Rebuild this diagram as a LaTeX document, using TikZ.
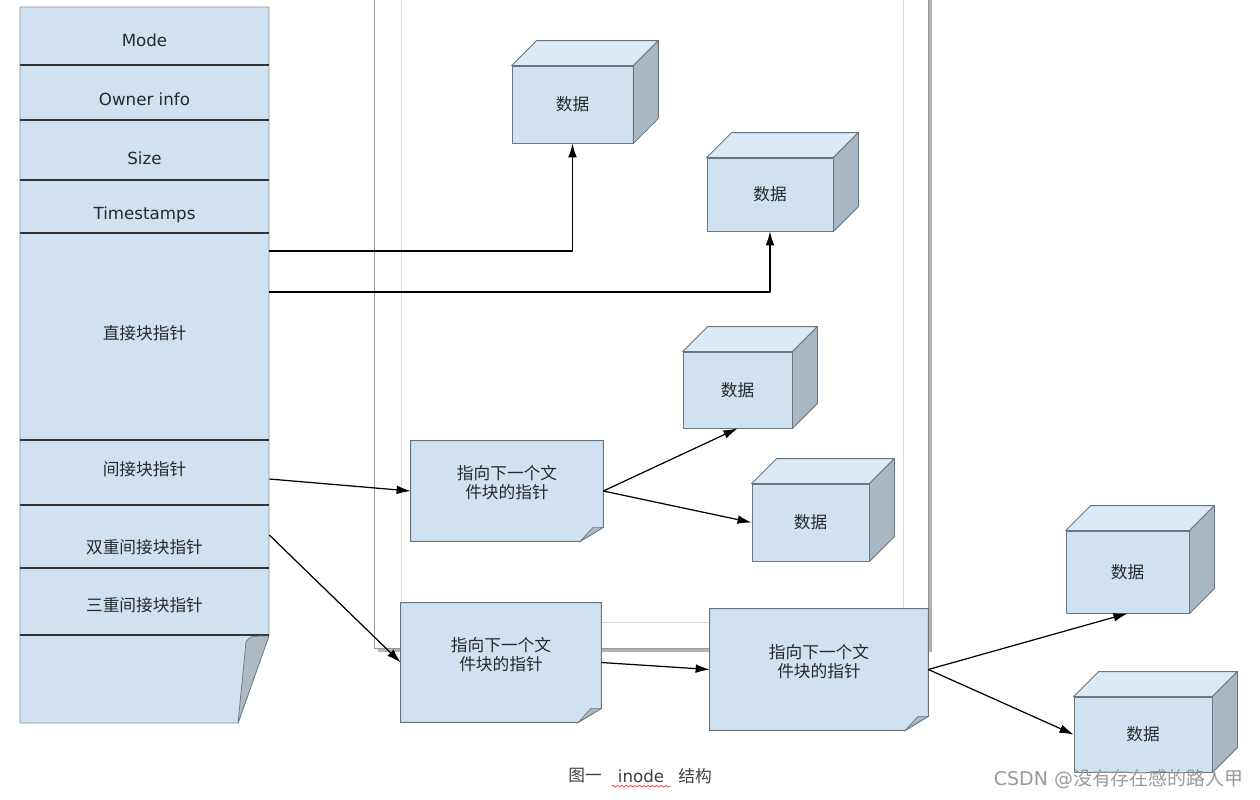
\documentclass[tikz,border=0pt]{standalone}
\usepackage{fontspec}
\setmainfont{DejaVu Sans}
\newfontfamily\cjk{Noto Sans CJK SC}
\usepackage{tikz}
\usetikzlibrary{arrows.meta,backgrounds,shadows,decorations.pathmorphing}

\definecolor{blockblue}{RGB}{208,226,242}
\definecolor{blocktop}{RGB}{219,234,247}
\definecolor{blockside}{RGB}{168,183,196}
\definecolor{edgegray}{RGB}{105,118,130}
\definecolor{foldgray}{RGB}{172,186,198}
\definecolor{inktext}{RGB}{40,40,40}

\tikzset{
  field/.style={minimum width=4.98cm, inner sep=0pt, text=inktext},
  datablock/.style={fill=blockblue, draw=edgegray, line width=0.5pt, inner sep=0pt,
    font=\fontsize{9.5}{11}\selectfont\cjk, text=inktext},
  notebox/.style={align=center, inner sep=0pt, text depth=10pt,
    font=\fontsize{9.5}{11}\selectfont\cjk, text=inktext},
  cubeface/.style={fill=blocktop, draw=edgegray, line width=0.5pt},
  cubeside/.style={fill=blockside, draw=edgegray, line width=0.5pt},
  paper/.style={fill=blockblue, draw=edgegray, line width=0.5pt},
  fold/.style={fill=foldgray, draw=edgegray, line width=0.4pt},
  ptr/.style={-{Latex[length=8pt,width=5pt]}, line width=0.7pt},
}

\begin{document}
\begin{tikzpicture}[x=0.02cm, y=-0.02cm, font=\fontsize{9.5}{11}\selectfont, line join=round]
\useasboundingbox (0,0) rectangle (1260,799);

% page frame behind everything
\begin{scope}[on background layer]
\fill[white] (0,0) rectangle (1260,799);
\draw[black!40, fill=white, drop shadow={shadow xshift=2pt, shadow yshift=-2pt, opacity=0.6}] (374,-10) rectangle (928,648);
\draw[black!15] (401,-10) rectangle (903,622);
\end{scope}

% inode
\draw[paper, draw=black!45] (20,7) -- (269,7) -- (269,635) -- (238,723) -- (20,723) -- cycle;
\foreach \y in {65,120,180,233,440,505,568,635}
  \draw[black!80, line width=0.6pt] (20,\y) -- (269,\y);
\draw[fold] (269,636) -- (238,723) -- (246,642) .. controls (250,636) .. (269,636) -- cycle;

\node[field] (mode) at (144.5,40) {Mode};
\node[field] (owner) at (144.5,99) {Owner info};
\node[field] (size) at (144.5,158) {Size};
\node[field] (time) at (144.5,215) {Timestamps};
\node[field] (direct) at (144.5,333) {\cjk 直接块指针};
\node[field] (ind) at (144.5,469) {\cjk 间接块指针};
\node[field] (dind) at (144.5,547) {\cjk 双重间接块指针};
\node[field] (tind) at (144.5,605) {\cjk 三重间接块指针};

% data blocks
\node[datablock, minimum width=2.42cm, minimum height=1.54cm] (d1) at (572.5,104.5) {数据};
\node[datablock, minimum width=2.52cm, minimum height=1.46cm] (d2) at (770,194.5) {数据};
\node[datablock, minimum width=2.18cm, minimum height=1.52cm] (d3) at (737.5,390) {数据};
\node[datablock, minimum width=2.34cm, minimum height=1.54cm] (d4) at (810.5,522.5) {数据};
\node[datablock, minimum width=2.46cm, minimum height=1.64cm] (d5) at (1127.5,572) {数据};
\node[datablock, minimum width=2.76cm, minimum height=1.50cm] (d6) at (1143,734.5) {数据};
\foreach \blk in {d1,d2,d3,d4,d5,d6} {
  \draw[cubeface] (\blk.north west) -- ++(25,-25) -- ([shift={(25,-25)}]\blk.north east) -- (\blk.north east) -- cycle;
  \draw[cubeside] (\blk.north east) -- ++(25,-25) -- ([shift={(25,-25)}]\blk.south east) -- (\blk.south east) -- cycle;
}

% pointer blocks
\node[notebox, minimum width=3.84cm, minimum height=2cm] (n1) at (507,491) {指向下一个文\\件块的指针};
\node[notebox, minimum width=4cm, minimum height=2.38cm] (n2) at (501,662.5) {指向下一个文\\件块的指针};
\node[notebox, minimum width=4.36cm, minimum height=2.42cm] (n3) at (819,669.5) {指向下一个文\\件块的指针};
\begin{scope}[on background layer]
\foreach \nt in {n1,n2,n3} {
  \draw[paper] (\nt.north west) -- (\nt.north east) -- ([shift={(0,-14)}]\nt.south east) -- ([shift={(-23,0)}]\nt.south east) -- (\nt.south west) -- cycle;
  \draw[fold] ([shift={(0,-14)}]\nt.south east) -- ([shift={(-23,0)}]\nt.south east) .. controls ([shift={(-15,-9)}]\nt.south east) .. ([shift={(-10,-14)}]\nt.south east) -- cycle;
}
\end{scope}

% pointers
\draw[ptr] ([shift={(0,-82)}]direct.east) -| (d1.south);
\draw[ptr] ([shift={(0,-41)}]direct.east) -| (d2.south);
\draw[ptr] ([shift={(0,10)}]ind.east) -- (n1.west);
\draw[ptr] ([shift={(0,-12)}]dind.east) -- (n2.west);
\draw[ptr] (n1.east) -- (d3.south);
\draw[ptr] (n1.east) -- (d4.west);
\draw[ptr] (n2.east) -- (n3.west);
\draw[ptr] (n3.east) -- (d5.south);
\draw[ptr] (n3.east) -- (d6.west);

% caption
\node[text=black!75] (capl) at (585,776) {\cjk 图一};
\node[text=black!75] (capw) at (641,776) {inode};
\node[text=black!75] (capr) at (695,776) {\cjk 结构};
\draw[red!80, line width=0.4pt, decorate, decoration={snake, amplitude=0.5pt, segment length=2.5pt}]
  ([shift={(0,4)}]capw.base west) -- ([shift={(0,4)}]capw.base east);
\node[anchor=east, text=black!40, font=\fontsize{10.8}{13}\selectfont] (mark) at (1250,779) {CSDN @{\cjk 没有存在感的路人甲}};
\end{tikzpicture}
\end{document}
